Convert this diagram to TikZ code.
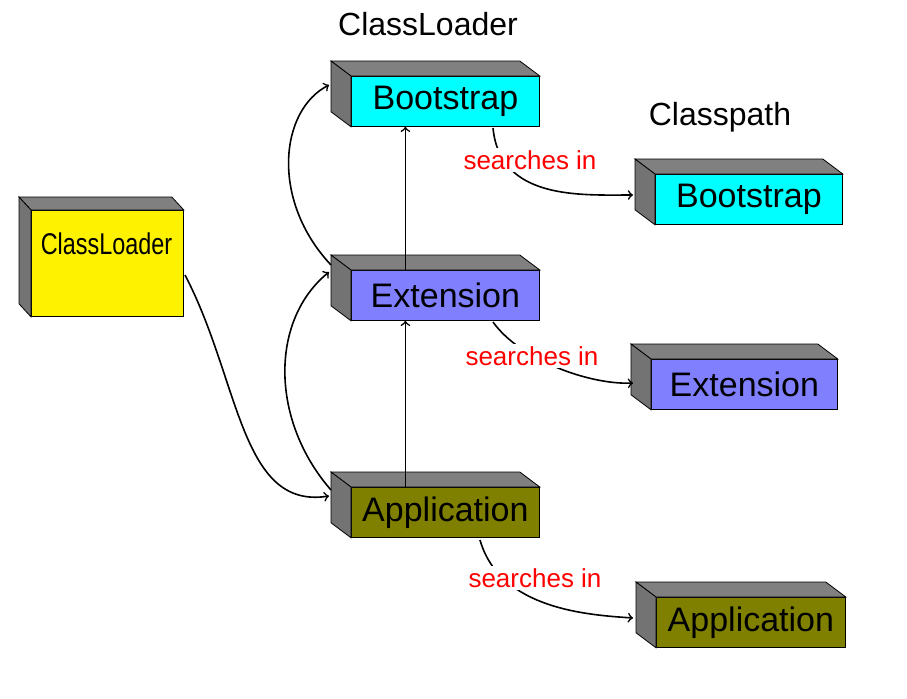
\documentclass[tikz,border=0pt]{standalone}
\usepackage{fontspec}
\setmainfont{Liberation Sans}
\begin{document}
\begin{tikzpicture}[x=0.5pt, y=-0.5pt, ->, >=to, thick,
    box/.style={draw, thin, anchor=north west, inner sep=0pt,
      minimum width=#1*0.5pt, minimum height=25pt, font=\fontsize{17}{20}\selectfont},
    search/.style={font=\fontsize{13}{15}\selectfont, text=red, fill=white, inner sep=1pt}]
  \definecolor{boot}{RGB}{0,255,255}
  \definecolor{ext}{RGB}{128,128,255}
  \definecolor{app}{RGB}{128,128,0}
  \useasboundingbox (0,0) rectangle (907,698);
  \newcommand{\depth}[3]{% node, dx, dy
    \fill[gray, draw=black, thin] (#1.north west) -- ++(#2,#3) -- ([shift={(#2,#3)}]#1.north east)
      -- (#1.north east) -- cycle;
    \fill[gray!90!black, draw=black, thin] (#1.north west) -- ++(#2,#3) -- ([shift={(#2,#3)}]#1.south west)
      -- (#1.south west) -- cycle;}
  % titles
  \node[font=\fontsize{16}{19}\selectfont] (cltitle) at (428,24) {ClassLoader};
  \node[font=\fontsize{16}{19}\selectfont] (cptitle) at (720,117) {Classpath};
  % class loaders
  \node[box=188, fill=boot] (lboot) at (351,76) {Bootstrap};
  \node[box=188, fill=ext] (lext) at (351,270) {Extension};
  \node[box=188, fill=app] (lapp) at (351,487) {Application};
  % classpath
  \node[box=187, fill=boot] (cboot) at (655,174) {Bootstrap};
  \node[box=186, fill=ext] (cext) at (651,359) {Extension};
  \node[box=189, fill=app] (capp) at (656,597) {Application};
  % generic loader
  \node[box=152, fill=yellow, minimum height=53pt, align=left, anchor=north west,
    font=\fontsize{15}{18}\selectfont] (gen) at (31,210) {};
  \node[anchor=north west, font=\fontsize{15}{18}\selectfont, xscale=0.78] (genlbl) at (35,225) {ClassLoader};
  \foreach \n in {lboot,lext,lapp} {\depth{\n}{-20}{-15}}
  \foreach \n in {cboot,cext,capp} {\depth{\n}{-20}{-15}}
  \depth{gen}{-12}{-13}
  % parent links
  \draw ([xshift=-20pt]lapp.north) -- ([xshift=-20pt]lext.south);
  \draw ([xshift=-20pt]lext.north) -- ([xshift=-20pt]lboot.south);
  \draw (331,490) .. controls (270,420) and (270,320) .. (329,272);
  \draw (331,265) .. controls (270,200) and (280,110) .. (329,85);
  \draw (185,275) .. controls (240,380) and (240,510) .. (329,496);
  % searches in
  \draw (493,128) .. controls (500,200) and (580,195) .. (633,195);
  \draw (493,322) .. controls (520,360) and (590,385) .. (633,383);
  \draw (480,540) .. controls (500,610) and (590,615) .. (633,618);
  \node[search] (s1) at (530,160) {searches in};
  \node[search] (s2) at (532,356) {searches in};
  \node[search] (s3) at (535,578) {searches in};
\end{tikzpicture}
\end{document}
